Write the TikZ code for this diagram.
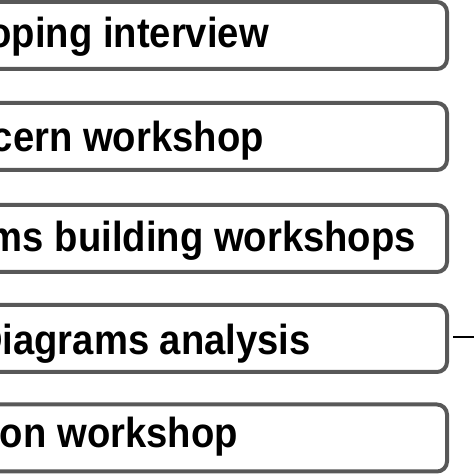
\documentclass[tikz,border=0pt]{standalone}
\usepackage{fontspec}
\setmainfont{Liberation Sans}[FakeStretch=0.91]
\definecolor{boxgray}{RGB}{88,88,88}
\begin{document}
\begin{tikzpicture}[x=1pt, y=1pt,
    stage/.style={draw=boxgray, line width=4pt, rounded corners=10pt, fill=white,
        minimum width=500pt, minimum height=67pt, inner sep=0pt},
    stagetext/.style={anchor=base east, inner sep=0pt,
        font=\fontsize{42}{46}\selectfont\bfseries}]
    \useasboundingbox (0,0) rectangle (474,474);

    % Riquadri delle fasi
    \node[stage] (scoping) at (197,438.5) {};
    \node[stage] (concern) at (197,337.5) {};
    \node[stage] (building) at (197,235.5) {};
    \node[stage] (analysis) at (197,135.5) {};
    \node[stage] (validation) at (197,36) {};

    % Testi
    \node[stagetext] (scopingtxt) at (269,426) {oping interview};
    \node[stagetext] (concerntxt) at (264,322) {cern workshop};
    \node[stagetext] (buildingtxt) at (416,222) {ms building workshops};
    \node[stagetext] (analysistxt) at (311,119) {Diagrams analysis};
    \node[stagetext] (validationtxt) at (238,26) {on workshop};

    % Collegamento verso destra
    \coordinate (stubend) at (474,137);
    \draw[line width=1.6pt, shorten <=4pt] (analysis.east |- stubend) -- (stubend);
\end{tikzpicture}
\end{document}
